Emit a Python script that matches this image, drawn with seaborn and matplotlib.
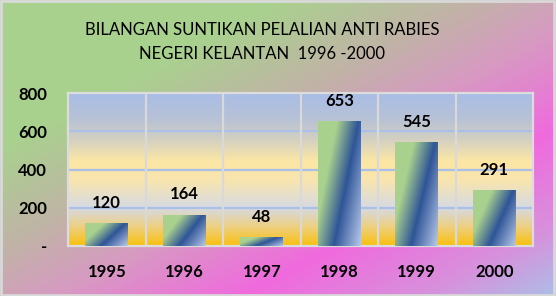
import numpy as np
import matplotlib
matplotlib.use("Agg")
import matplotlib.pyplot as plt
from matplotlib.colors import LinearSegmentedColormap
from matplotlib.patches import Rectangle
import seaborn as sns

# ---- data ----
years = ["1995", "1996", "1997", "1998", "1999", "2000"]
values = [120, 164, 48, 653, 545, 291]
ytick_values = [0, 200, 400, 600, 800]
ytick_labels = ["-", "200", "400", "600", "800"]
title_line1 = "BILANGAN SUNTIKAN PELALIAN ANTI RABIES"
title_line2 = "NEGERI KELANTAN  1996 -2000"

sns.set_theme(style="white")
plt.rcParams["font.family"] = ["Lato", "DejaVu Sans"]

W, H = 556, 296
fig = plt.figure(figsize=(W / 100, H / 100), dpi=100)

# ---- figure background gradient ----
bg = fig.add_axes([0, 0, 1, 1], zorder=-10)
bg.set_axis_off()
fig_cmap = LinearSegmentedColormap.from_list(
    "figbg",
    [(0.0, "#a9d18e"), (0.25, "#a9d18e"), (0.42, "#c0b4a6"), (0.55, "#d79ac2"),
     (0.72, "#f06ade"), (0.88, "#d890dc"), (1.0, "#aebde6")])
xx, yy = np.meshgrid(np.linspace(0, 1, 400), np.linspace(0, 1, 300))
bg.imshow(fig_cmap((xx + yy) / 2), extent=(0, 1, 0, 1), aspect="auto",
          origin="upper")
bg.set_xlim(0, 1)
bg.set_ylim(0, 1)
bg.add_patch(Rectangle((0.001, 0.002), 0.996, 0.994, fill=False,
                       edgecolor="#d9d9d9", lw=2.0, transform=bg.transAxes))

# ---- main axes ----
ax = fig.add_axes([68 / W, 50 / H, 465 / W, 153 / H])
ax.set_facecolor("none")

plot_cmap = LinearSegmentedColormap.from_list(
    "plotbg",
    [(0.0, "#f9c00e"), (0.12, "#eecf7e"), (0.25, "#d6dae4"), (0.42, "#f7e4b0"),
     (0.55, "#fde7a4"), (0.7, "#d3d0c2"), (0.83, "#b8c2d6"), (1.0, "#a9bde6")])
gy = np.linspace(1, 0, 300)[:, None] * np.ones((1, 10))
ax.imshow(plot_cmap(gy), extent=(0, 1, 0, 1), transform=ax.transAxes,
          aspect="auto", origin="upper", zorder=0)

sns.barplot(x=years, y=values, width=0.55, color="#2f5597", ax=ax, zorder=3)

bar_cmap = LinearSegmentedColormap.from_list(
    "bar", [(0.0, "#a9d18e"), (0.28, "#a9d18e"), (0.6, "#2f5597"), (1.0, "#b8c9ea")])
u, v = np.meshgrid(np.linspace(0, 1, 120), np.linspace(1, 0, 200))
s = (u + 0.58 * (1 - v)) / 1.58
bar_img = bar_cmap(s)
for p in list(ax.patches):
    x0, y0 = p.get_x(), p.get_y()
    w, h = p.get_width(), p.get_height()
    im = ax.imshow(bar_img, extent=(x0, x0 + w, y0, y0 + h), aspect="auto",
                   origin="upper", zorder=3)
    im.set_clip_path(p)
    p.set_facecolor("none")
    p.set_edgecolor("none")

ax.set_xlim(-0.5, len(years) - 0.5)
ax.set_ylim(0, 800)

# gridlines
for yv in ytick_values[1:-1]:
    ax.axhline(yv, color="#abc0e8", lw=1.6, zorder=1)
for i in range(len(years) - 1):
    ax.axvline(i + 0.5, color="#d9d9d9", lw=1.6, zorder=1)
for sp in ax.spines.values():
    sp.set_visible(True)
    sp.set_color("#dcdcdc")
    sp.set_linewidth(1.6)

# data labels
for i, val in enumerate(values):
    ax.annotate(str(val), (i, val), xytext=(0, 14.5), textcoords="offset points",
                ha="center", va="center", fontsize=12, fontweight="bold",
                color="black", zorder=5)

ax.set_yticks(ytick_values)
ax.set_yticklabels(ytick_labels)
ax.tick_params(axis="both", length=0, labelsize=12)
ax.tick_params(axis="y", pad=15)
ax.tick_params(axis="x", pad=13)
for lab in ax.get_xticklabels() + ax.get_yticklabels():
    lab.set_fontweight("bold")
    lab.set_color("black")
ax.set_xlabel("")
ax.set_ylabel("")

fig.text(262 / W, 1 - 30 / H, title_line1, ha="center", va="center",
         fontsize=12, color="black")
fig.text(262 / W, 1 - 54 / H, title_line2, ha="center", va="center",
         fontsize=12, color="black")

fig.savefig("out.png", dpi=100)
